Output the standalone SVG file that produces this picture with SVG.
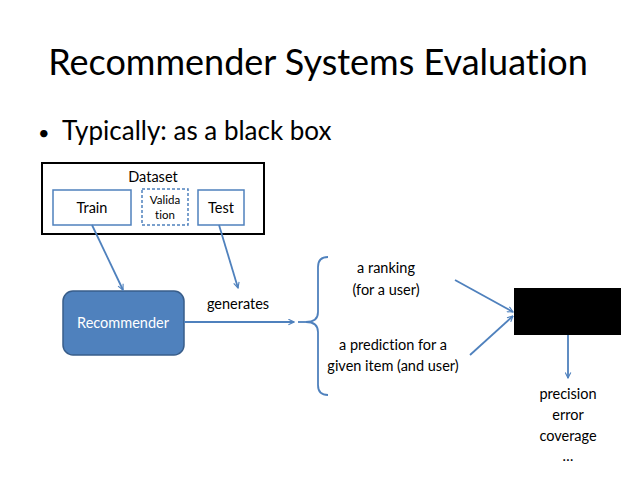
<svg xmlns="http://www.w3.org/2000/svg" width="638" height="479" viewBox="0 0 638 479">
<defs>
<marker id="ah" viewBox="0 0 10 10" refX="9" refY="5" markerWidth="7" markerHeight="7" orient="auto" markerUnits="userSpaceOnUse">
<path d="M1,1 L9,5 L1,9" fill="none" stroke="#4F81BD" stroke-width="1.6"/>
</marker>
<style>
text{font-family:Lato,"Open Sans","Liberation Sans",sans-serif;fill:#000;font-variant-ligatures:none}
.s{font-size:14.5px;text-anchor:middle}
.m{font-size:11.5px;text-anchor:middle}
.box{fill:#fff;stroke:#4F81BD;stroke-width:1.5}
.c{fill:none;stroke:#4F81BD;stroke-width:1.8;marker-end:url(#ah)}
</style>
</defs>
<rect width="638" height="479" fill="#fff"/>
<text x="318" y="75" font-size="36" text-anchor="middle">Recommender Systems Evaluation</text>
<text x="38" y="140" font-size="20">•</text>
<text x="62" y="140" font-size="26">Typically: as a black box</text>
<g id="dataset">
<rect x="42" y="163" width="222" height="71" fill="#fff" stroke="#000" stroke-width="2"/>
<text x="153" y="182" class="s">Dataset</text>
</g>
<g id="train"><rect class="box" x="53" y="190" width="78" height="35"/><text x="92" y="213" class="s">Train</text></g>
<g id="validation"><rect class="box" x="142" y="189" width="46" height="36" stroke-dasharray="3,2"/><text x="165" y="204" class="m">Valida</text><text x="165" y="219" class="m">tion</text></g>
<g id="test"><rect class="box" x="198" y="190" width="46" height="35"/><text x="221" y="213" class="s">Test</text></g>
<g id="recommender"><rect x="63" y="291" width="121" height="64" rx="10" fill="#4F81BD" stroke="#385D8A" stroke-width="1.5"/><text x="123" y="328" class="s" style="fill:#fff">Recommender</text></g>
<g id="blackbox"><rect x="514" y="288" width="107" height="47" fill="#000"/></g>
<g id="brace"><path d="M328,257 Q318,257 318,267 L318,312 Q318,322 306,322 Q318,322 318,332 L318,385 Q318,395 328,395" fill="none" stroke="#4F81BD" stroke-width="1.8"/></g>
<g id="labels">
<text x="238" y="309" class="s">generates</text>
<text x="386" y="273" class="s">a ranking</text>
<text x="386" y="295" class="s">(for a user)</text>
<text x="393" y="350" class="s">a prediction for a</text>
<text x="393" y="371" class="s">given item (and user)</text>
<text x="568" y="399" class="s">precision</text>
<text x="568" y="420" class="s">error</text>
<text x="568" y="441" class="s">coverage</text>
<text x="568" y="461" class="s">…</text>
</g>
<g id="connectors">
<line class="c" x1="92" y1="225" x2="123" y2="290"/>
<line class="c" x1="219" y1="225" x2="238" y2="288"/>
<line class="c" x1="184" y1="322" x2="294" y2="322"/>
<line x1="298" y1="322" x2="306" y2="322" stroke="#4F81BD" stroke-width="1.8"/>
<line class="c" x1="455" y1="280" x2="513" y2="312"/>
<line class="c" x1="470" y1="355" x2="513" y2="316"/>
<line class="c" x1="568" y1="335" x2="568" y2="378"/>
</g>
</svg>
